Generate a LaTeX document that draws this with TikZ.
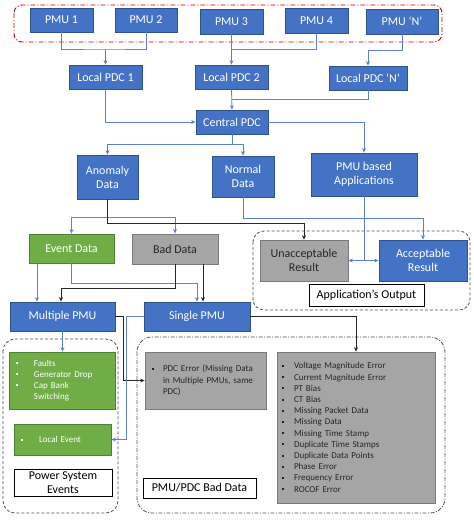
\documentclass[tikz,border=0pt]{standalone}
\usepackage{fontspec}
\setmainfont{Carlito}
\usetikzlibrary{arrows.meta,calc}
\definecolor{bfill}{HTML}{4472C4}
\definecolor{bdraw}{HTML}{2F528F}
\definecolor{gfill}{HTML}{70AD47}
\definecolor{gdraw}{HTML}{507E32}
\definecolor{afill}{HTML}{A5A5A5}
\definecolor{adraw}{HTML}{7A7A7A}
\definecolor{lnblue}{HTML}{5B80CC}
\definecolor{lnblack}{HTML}{262626}
\definecolor{grpline}{HTML}{44546A}
\definecolor{redline}{HTML}{C00000}
\newcommand\mybul{\rule[2pt]{2pt}{2pt}}
\tikzset{
  box/.style={draw, line width=0.8pt, inner sep=1pt, align=center, font=\fontsize{12}{14}\selectfont},
  bluebox/.style={box, fill=bfill, draw=bdraw, text=white},
  greenbox/.style={box, fill=gfill, draw=gdraw, text=white},
  graybox/.style={box, fill=afill, draw=adraw, text=lnblack},
  labelbox/.style={box, fill=white, draw=black, text=black},
  listfont/.style={font=\fontsize{9}{11.2}\selectfont, align=left},
  bl/.style={draw=lnblue, line width=0.8pt},
  bk/.style={draw=lnblack, line width=0.8pt},
  tip/.style={-{Stealth[length=4.5pt,width=4pt]}},
  grp/.style={draw=grpline, line width=0.8pt},
}
\begin{document}
\begin{tikzpicture}[x=1pt,y=-1pt]
\useasboundingbox[fill=white] (0,0) rectangle (474,520);

% group frames
\draw[draw=redline, line width=0.9pt, dash pattern=on 5pt off 2pt on 1pt off 2pt, rounded corners=8pt] (14,5) rectangle (442,42);
\draw[grp, dash pattern=on 3pt off 2pt, rounded corners=11pt] (253,231) rectangle (470,310);
\draw[grp, dash pattern=on 3pt off 2pt, rounded corners=12pt] (3,339) rectangle (118,513);
\draw[grp, dash pattern=on 4pt off 1.5pt on 1pt off 1.5pt, rounded corners=15pt] (137,337) rectangle (445,513);

% PMUs
\node[bluebox, minimum width=63pt, minimum height=24pt] (p1) at (61.5,20) {PMU 1};
\node[bluebox, minimum width=62pt, minimum height=24pt] (p2) at (146,20) {PMU 2};
\node[bluebox, minimum width=63pt, minimum height=25pt] (p3) at (231.5,21.5) {PMU 3};
\node[bluebox, minimum width=63pt, minimum height=25pt] (p4) at (316.5,20.5) {PMU 4};
\node[bluebox, minimum width=72pt, minimum height=25pt] (pN) at (402,21.5) {PMU ‘N’};

% local PDCs
\node[bluebox, minimum width=73pt, minimum height=24pt] (lp1) at (105.5,77) {Local PDC 1};
\node[bluebox, minimum width=73pt, minimum height=24pt] (lp2) at (231.5,77) {Local PDC 2};
\node[bluebox, minimum width=78pt, minimum height=24pt] (lpN) at (368,78) {Local PDC ‘N’};

\node[bluebox, minimum width=72pt, minimum height=24pt] (cp) at (232,122) {Central PDC};

\node[bluebox, minimum width=61pt, minimum height=44pt] (an) at (107.5,177) {Anomaly\\Data};
\node[bluebox, minimum width=62pt, minimum height=41pt] (nd) at (243,176.5) {Normal\\Data};
\node[bluebox, minimum width=106pt, minimum height=43pt] (app) at (364,174.5) {PMU based\\Applications};

\node[greenbox, minimum width=85pt, minimum height=29pt] (ed) at (71.5,248.5) {Event Data};
\node[graybox, minimum width=86pt, minimum height=30pt] (bd) at (175,249) {Bad Data};

\node[graybox, minimum width=88pt, minimum height=41pt] (ur) at (304,260.5) {Unacceptable\\Result};
\node[bluebox, minimum width=88pt, minimum height=41pt] (ar) at (423,260.5) {Acceptable\\Result};
\node[labelbox, minimum width=115pt, minimum height=22pt] (ao) at (366.5,295) {Application’s Output};

\node[bluebox, minimum width=105pt, minimum height=29pt] (mp) at (62.5,316.5) {Multiple PMU};
\node[bluebox, minimum width=106pt, minimum height=29pt] (sp) at (197,316.5) {Single PMU};

% power system events
\node[greenbox, listfont, minimum width=106pt, minimum height=57pt, text width=92pt, inner xsep=7pt] (ev1) at (62,380.5)
  {\makebox[18pt][l]{\mybul}Faults\\\makebox[18pt][l]{\mybul}Generator Drop\\\makebox[18pt][l]{\mybul}Cap Bank\\\makebox[18pt][l]{}Switching};
\node[greenbox, listfont, minimum width=97pt, minimum height=31pt, text width=83pt, inner xsep=7pt] (le) at (62.5,439.5)
  {\makebox[18pt][l]{\mybul}Local Event};
\node[labelbox, minimum width=98pt, minimum height=27pt] (pse) at (63,483) {Power System\\Events};

% bad data
\node[graybox, listfont, minimum width=121pt, minimum height=57pt, text width=107pt, inner xsep=7pt] (pdc) at (205.5,380.5)
  {\makebox[11pt][l]{\mybul}PDC Error (Missing Data\\\makebox[11pt][l]{}in Multiple PMUs, same\\\makebox[11pt][l]{}PDC)};
\node[graybox, listfont, minimum width=158pt, minimum height=151pt, text width=148pt, inner xsep=5pt] (bg) at (356,427.5)
  {\makebox[12pt][l]{\mybul}Voltage Magnitude Error\\
   \makebox[12pt][l]{\mybul}Current Magnitude Error\\
   \makebox[12pt][l]{\mybul}PT Bias\\
   \makebox[12pt][l]{\mybul}CT Bias\\
   \makebox[12pt][l]{\mybul}Missing Packet Data\\
   \makebox[12pt][l]{\mybul}Missing Data\\
   \makebox[12pt][l]{\mybul}Missing Time Stamp\\
   \makebox[12pt][l]{\mybul}Duplicate Time Stamps\\
   \makebox[12pt][l]{\mybul}Duplicate Data Points\\
   \makebox[12pt][l]{\mybul}Phase Error\\
   \makebox[12pt][l]{\mybul}Frequency Error\\
   \makebox[12pt][l]{\mybul}ROCOF Error};
\node[labelbox, minimum width=113pt, minimum height=20pt] (pbd) at (199.5,488) {PMU/PDC Bad Data};

% connectors: PMUs to local PDCs
\coordinate (j1) at (105.5,49);
\draw[bl] (p1.south) |- (j1) -| (p2.south);
\draw[bl,tip] (j1) -- (lp1.north);
\draw[bl,tip] (p3.south) -- (lp2.north);
\draw[bl] (p4.south) |- (p3.south |- j1);
\coordinate (j3) at (368,50.5);
\draw[bl] (pN.south) |- (j3);
\draw[bl,tip] (j3) -- (lpN.north);

% local PDCs to central
\draw[bl,tip] (lp1.south) |- (cp.west);
\draw[bl,tip] (lp2.south) -- (cp.north);
\draw[bl] (lpN.south) |- ($(lp2.south)!0.5!(cp.north)$);

% central outputs
\draw[bl,tip] (cp.east) -| (app.north);
\coordinate (cs) at (232,144.5);
\draw[bl] (cp.south) -- (cs);
\draw[bl,tip] (cs) -| (an.north);
\draw[bl,tip] (cs) -| (nd.north);

% anomaly split
\coordinate (bs) at (107.5,217);
\draw[bl,tip] (bs) -| (ed.north);
\draw[bl,tip] (bs) -| (bd.north);
\coordinate (ak) at (107.5,223);
\draw[bk,tip] (an.south) -- (ak) -| (ur.north);

% normal / applications
\coordinate (nk) at (243,218);
\draw[bl,tip] (nd.south) -- (nk) -| (ar.north);
\coordinate (aj) at (app.south |- ur.east);
\draw[bl] (app.south) -- (aj);
\draw[bl,tip] (aj) -- (ur.east);
\draw[bl,tip] (aj) -- (ar.west);

% event / bad data to PMU type
\draw[bl,tip] ([xshift=-34.5pt]ed.south) -- ([xshift=-34.5pt]ed.south |- mp.north);
\coordinate (ek) at (71.5,283);
\draw[bl,tip] (ed.south) -- (ek) -| (sp.north);
\coordinate (bk1) at (175,288);
\draw[bk,tip] (bd.south) -- (bk1) -| ([xshift=-1.5pt]mp.north);
\draw[bk,tip] ([xshift=28pt]bd.south) -- ([xshift=28pt]bd.south |- sp.north);

% PMU type to details
\draw[bl,tip] (mp.south) -- (mp.south |- ev1.north);
\draw[bk,tip] (mp.east) -- ++(8,0) |- (pdc.west);
\draw[bl,tip] (sp.west) -- ++(-17,0) |- (le.east);
\draw[bk,tip] (sp.east) -| (bg.north);
\end{tikzpicture}
\end{document}
